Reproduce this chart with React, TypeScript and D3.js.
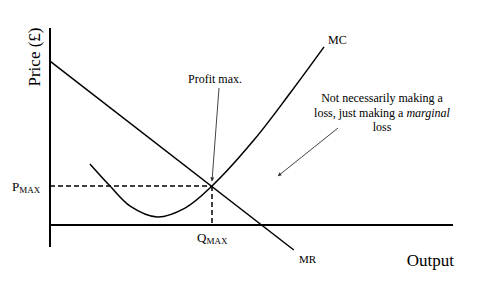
import React from "react";
import * as d3 from "d3";

// Data (in chart units: output 0..100, price 0..100)
const mrX = [0, 60.5];
const mrY = [83.2, -12.7];
const mcX = [9.9, 14.9, 19.9, 26.6, 33.5, 40.2, 50.6, 59.6, 68.0];
const mcY = [31.0, 19.8, 9.6, 4.1, 8.6, 19.8, 43.1, 67.0, 90.4];
const qMax = 40.2;
const pMax = 19.8;
const labels = {
  y: "Price (£)",
  x: "Output",
  mc: "MC",
  mr: "MR",
  profit: "Profit max.",
};

const W = 500;
const H = 281;
const FONT = "'Liberation Serif', 'DejaVu Serif', serif";

export default function App() {
  const x = d3.scaleLinear().domain([0, 100]).range([50, 453]);
  const y = d3.scaleLinear().domain([0, 100]).range([225, 28]);
  const line = d3
    .line<[number, number]>()
    .x((d) => x(d[0]))
    .y((d) => y(d[1]));
  const mcLine = d3
    .line<[number, number]>()
    .x((d) => x(d[0]))
    .y((d) => y(d[1]))
    .curve(d3.curveCatmullRom.alpha(0.5));
  const mrPts: [number, number][] = mrX.map((v, i) => [v, mrY[i]]);
  const mcPts: [number, number][] = mcX.map((v, i) => [v, mcY[i]]);

  return (
    <svg
      width={W}
      height={H}
      style={{ position: "absolute", left: 0, top: 0, background: "#fff" }}
      fontFamily={FONT}
    >
      <defs>
        <marker
          id="ah"
          viewBox="0 0 10 10"
          refX="9"
          refY="5"
          markerWidth="4"
          markerHeight="4"
          orient="auto"
        >
          <path d="M0,0 L10,5 L0,10 z" fill="#333" />
        </marker>
      </defs>
      {/* axes */}
      <line x1={x(0)} x2={x(0)} y1={y(100)} y2={247} stroke="#000" strokeWidth={2} />
      <line x1={x(0)} x2={x(100)} y1={y(0)} y2={y(0)} stroke="#000" strokeWidth={2} />
      {/* dashed guides */}
      <line
        x1={x(0)}
        x2={x(qMax)}
        y1={y(pMax)}
        y2={y(pMax)}
        stroke="#000"
        strokeWidth={1.5}
        strokeDasharray="5,3"
      />
      <line
        x1={x(qMax)}
        x2={x(qMax)}
        y1={y(pMax)}
        y2={y(0)}
        stroke="#000"
        strokeWidth={1.5}
        strokeDasharray="5,3"
      />
      {/* curves */}
      <path d={line(mrPts) || ""} fill="none" stroke="#000" strokeWidth={1.5} />
      <path d={mcLine(mcPts) || ""} fill="none" stroke="#000" strokeWidth={1.5} />
      {/* arrows */}
      <line x1={219} y1={88} x2={x(qMax)} y2={y(pMax) - 5} stroke="#444" strokeWidth={1} markerEnd="url(#ah)" />
      <line x1={338} y1={128} x2={278} y2={176} stroke="#444" strokeWidth={1} markerEnd="url(#ah)" />
      {/* labels */}
      <text
        transform={`translate(40,57) rotate(-90)`}
        textAnchor="middle"
        fontSize={17}
        fill="#000"
      >
        {labels.y}
      </text>
      <text x={454} y={266} textAnchor="end" fontSize={17} fill="#000">
        {labels.x}
      </text>
      <text x={328} y={44} fontSize={12} fill="#000">
        {labels.mc}
      </text>
      <text x={299} y={263} fontSize={11} fill="#000">
        {labels.mr}
      </text>
      <text x={215} y={83} textAnchor="middle" fontSize={12} fill="#000">
        {labels.profit}
      </text>
      <text x={12} y={191} fontSize={13} fill="#000">
        P<tspan fontSize={9} dy={2}>MAX</tspan>
      </text>
      <text x={197} y={242} fontSize={13} fill="#000">
        Q<tspan fontSize={9} dy={2}>MAX</tspan>
      </text>
      <text textAnchor="middle" fontSize={12} fill="#000">
        <tspan x={382} y={102}>Not necessarily making a</tspan>
        <tspan x={382} y={117}>
          loss, just making a <tspan fontStyle="italic">marginal</tspan>
        </tspan>
        <tspan x={382} y={131}>loss</tspan>
      </text>
    </svg>
  );
}
